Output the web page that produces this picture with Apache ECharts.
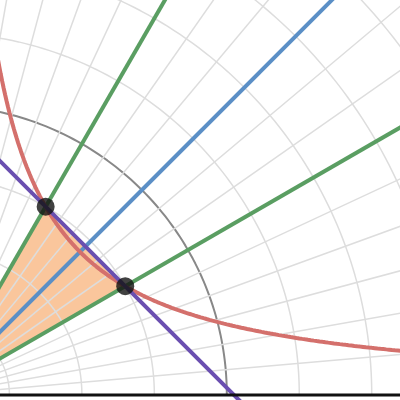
<!DOCTYPE html><html><head><meta charset="utf-8"><script src="https://cdn.jsdelivr.net/npm/echarts@6/dist/echarts.min.js"></script>
<style>html,body{margin:0;padding:0;background:#fff}#c{width:400px;height:400px}</style></head><body><div id="c"></div><script>
const rayAngles=[30,45,60];
const rayColors=['#5a9e62','#5b8fc6','#5a9e62'];
const pointR=3;
const pointAngles=[60,30];
const gridRadii=[1,2,3,4,5,6,7,8,9];
const darkRadius=4;
const chart=echarts.init(document.getElementById('c'));
const d=Math.PI/180;
const pts=pointAngles.map(a=>[pointR*Math.cos(a*d),pointR*Math.sin(a*d)]);
const lineC=pts[0][0]+pts[0][1];
const hypK=pts[0][0]*pts[0][1];
const series=[];
function circle(r){const o=[];for(let t=0;t<=90;t+=1)o.push([r*Math.cos(t*d),r*Math.sin(t*d)]);return o;}
gridRadii.forEach(r=>series.push({type:'line',data:circle(r),showSymbol:false,silent:true,lineStyle:{color:r===darkRadius?'#888':'#ddd',width:r===darkRadius?2:1.5}}));
for(let a=5;a<90;a+=5){series.push({type:'line',data:[[0,0],[12*Math.cos(a*d),12*Math.sin(a*d)]],showSymbol:false,silent:true,lineStyle:{color:'#ddd',width:1.5}});}
series.push({type:'custom',renderItem:(p,api)=>({type:'polygon',shape:{points:[api.coord([0,0]),api.coord(pts[0]),api.coord(pts[1])]},style:{fill:'rgba(247,160,90,0.6)'}}),data:[[0,0]]});
rayAngles.forEach((a,i)=>series.push({type:'line',data:[[0,0],[12*Math.cos(a*d),12*Math.sin(a*d)]],showSymbol:false,lineStyle:{color:rayColors[i],width:4}}));
const hyp=[];for(let x=0.6;x<=7;x+=0.02)hyp.push([x,hypK/x]);
series.push({type:'line',data:hyp,showSymbol:false,lineStyle:{color:'#d4706c',width:4}});
series.push({type:'line',data:[[-1,lineC+1],[lineC+1,-1]],showSymbol:false,lineStyle:{color:'#6a4fb0',width:4}});
series.push({type:'line',data:[[-1,0],[8,0]],showSymbol:false,lineStyle:{color:'#111',width:3}});
series.push({type:'scatter',data:pts,symbolSize:18,itemStyle:{color:'#111'},z:10});
chart.setOption({animation:false,grid:{left:0,right:0,top:0,bottom:0},
xAxis:{type:'value',min:0.87,max:6.39,show:false},
yAxis:{type:'value',min:-0.07,max:5.45,show:false},series});
</script></body></html>
